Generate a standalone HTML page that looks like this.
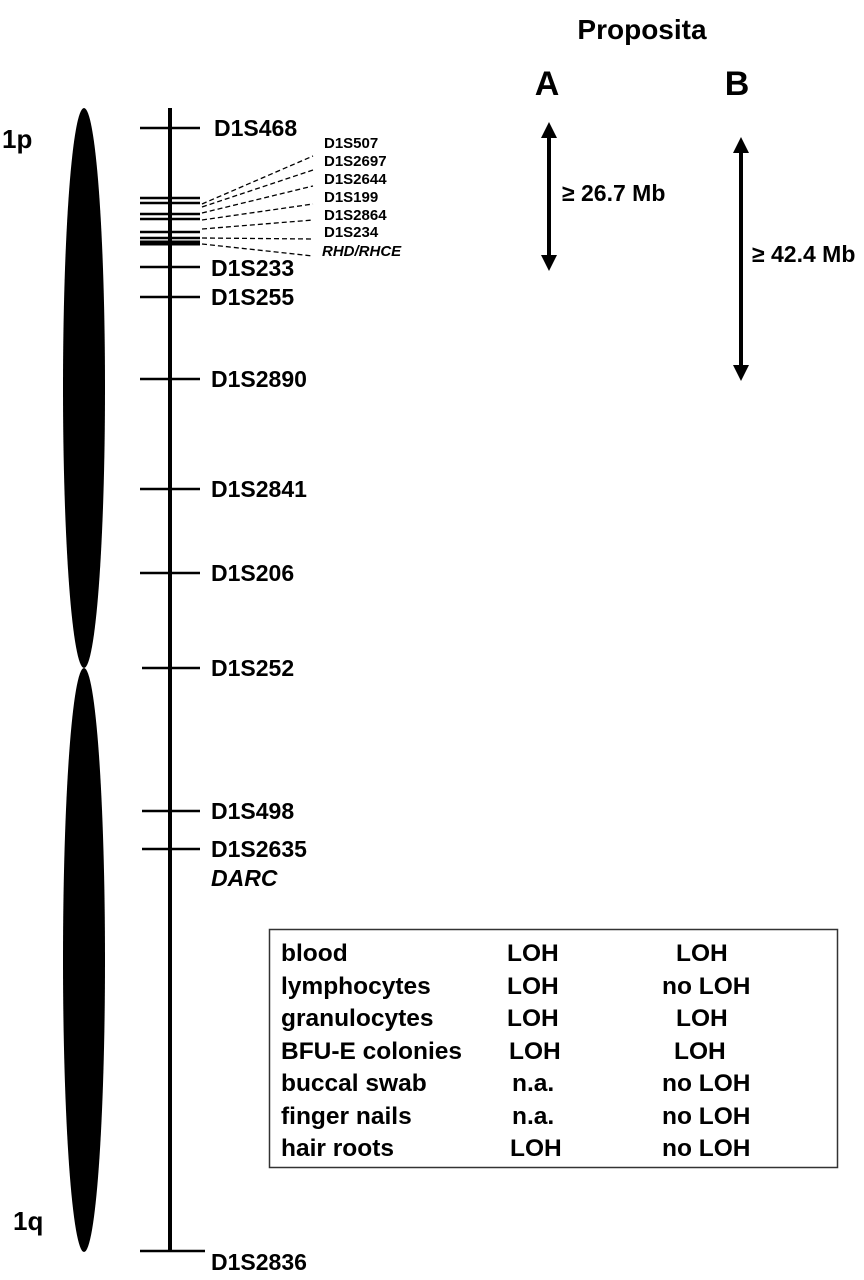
<!DOCTYPE html>
<html><head><style>html,body{margin:0;padding:0;background:#fff}svg{display:block}</style></head>
<body>
<svg width="864" height="1280" viewBox="0 0 864 1280" xmlns="http://www.w3.org/2000/svg" font-family="Liberation Sans, Arial, sans-serif" font-weight="bold">
<ellipse cx="84" cy="388" rx="21" ry="280" fill="#000"/>
<ellipse cx="84" cy="960" rx="21" ry="292" fill="#000"/>
<text x="2" y="148" font-size="26">1p</text>
<text x="13" y="1230" font-size="26">1q</text>
<line x1="170" y1="108" x2="170" y2="1252" stroke="#000" stroke-width="4"/>
<g stroke="#000" stroke-width="2.5">
<line x1="140" y1="128" x2="200" y2="128"/>
<line x1="140" y1="198" x2="200" y2="198"/>
<line x1="140" y1="203" x2="200" y2="203"/>
<line x1="140" y1="214" x2="200" y2="214"/>
<line x1="140" y1="219" x2="200" y2="219"/>
<line x1="140" y1="232" x2="200" y2="232"/>
<line x1="140" y1="238" x2="200" y2="238"/>
<line x1="140" y1="243" x2="200" y2="243" stroke-width="5"/>
<line x1="140" y1="267" x2="200" y2="267"/>
<line x1="140" y1="297" x2="200" y2="297"/>
<line x1="140" y1="379" x2="200" y2="379"/>
<line x1="140" y1="489" x2="200" y2="489"/>
<line x1="140" y1="573" x2="200" y2="573"/>
<line x1="142" y1="668" x2="200" y2="668"/>
<line x1="142" y1="811" x2="200" y2="811"/>
<line x1="142" y1="849" x2="200" y2="849"/>
<line x1="140" y1="1251" x2="205" y2="1251"/>
</g>
<g stroke="#000" stroke-width="1.3" stroke-dasharray="5,3" fill="none">
<line x1="202" y1="204" x2="313" y2="156"/>
<line x1="202" y1="207" x2="313" y2="170"/>
<line x1="202" y1="213" x2="313" y2="186"/>
<line x1="202" y1="220" x2="313" y2="204"/>
<line x1="202" y1="229" x2="313" y2="220"/>
<line x1="202" y1="238" x2="313" y2="239"/>
<line x1="202" y1="244" x2="313" y2="256"/>
</g>
<g font-size="15">
<text x="324" y="148">D1S507</text>
<text x="324" y="166">D1S2697</text>
<text x="324" y="184">D1S2644</text>
<text x="324" y="202">D1S199</text>
<text x="324" y="220">D1S2864</text>
<text x="324" y="237">D1S234</text>
<text x="322" y="256" font-style="italic">RHD/RHCE</text>
</g>
<g font-size="23">
<text x="214" y="136">D1S468</text>
<text x="211" y="276">D1S233</text>
<text x="211" y="305">D1S255</text>
<text x="211" y="387">D1S2890</text>
<text x="211" y="497">D1S2841</text>
<text x="211" y="581">D1S206</text>
<text x="211" y="676">D1S252</text>
<text x="211" y="819">D1S498</text>
<text x="211" y="857">D1S2635</text>
<text x="211" y="886" font-style="italic">DARC</text>
<text x="211" y="1270">D1S2836</text>
</g>
<text x="642" y="39" font-size="28" text-anchor="middle">Proposita</text>
<text x="547" y="95" font-size="34" text-anchor="middle">A</text>
<text x="737" y="95" font-size="34" text-anchor="middle">B</text>
<g fill="#000">
<line x1="549" y1="132" x2="549" y2="262" stroke="#000" stroke-width="4"/>
<polygon points="549,122 541,138 557,138"/>
<polygon points="549,271 541,255 557,255"/>
<line x1="741" y1="147" x2="741" y2="372" stroke="#000" stroke-width="4"/>
<polygon points="741,137 733,153 749,153"/>
<polygon points="741,381 733,365 749,365"/>
</g>
<text x="562" y="201" font-size="23">≥ 26.7 Mb</text>
<text x="752" y="262" font-size="23">≥ 42.4 Mb</text>
<rect x="269.5" y="929.5" width="568" height="238" fill="none" stroke="#333" stroke-width="1.5"/>
<g font-size="24.5">
<text x="281" y="961">blood</text><text x="507" y="961">LOH</text><text x="676" y="961">LOH</text>
<text x="281" y="994">lymphocytes</text><text x="507" y="994">LOH</text><text x="662" y="994">no LOH</text>
<text x="281" y="1026">granulocytes</text><text x="507" y="1026">LOH</text><text x="676" y="1026">LOH</text>
<text x="281" y="1059">BFU-E colonies</text><text x="509" y="1059">LOH</text><text x="674" y="1059">LOH</text>
<text x="281" y="1091">buccal swab</text><text x="512" y="1091">n.a.</text><text x="662" y="1091">no LOH</text>
<text x="281" y="1124">finger nails</text><text x="512" y="1124">n.a.</text><text x="662" y="1124">no LOH</text>
<text x="281" y="1156">hair roots</text><text x="510" y="1156">LOH</text><text x="662" y="1156">no LOH</text>
</g>
</svg>
</body></html>
